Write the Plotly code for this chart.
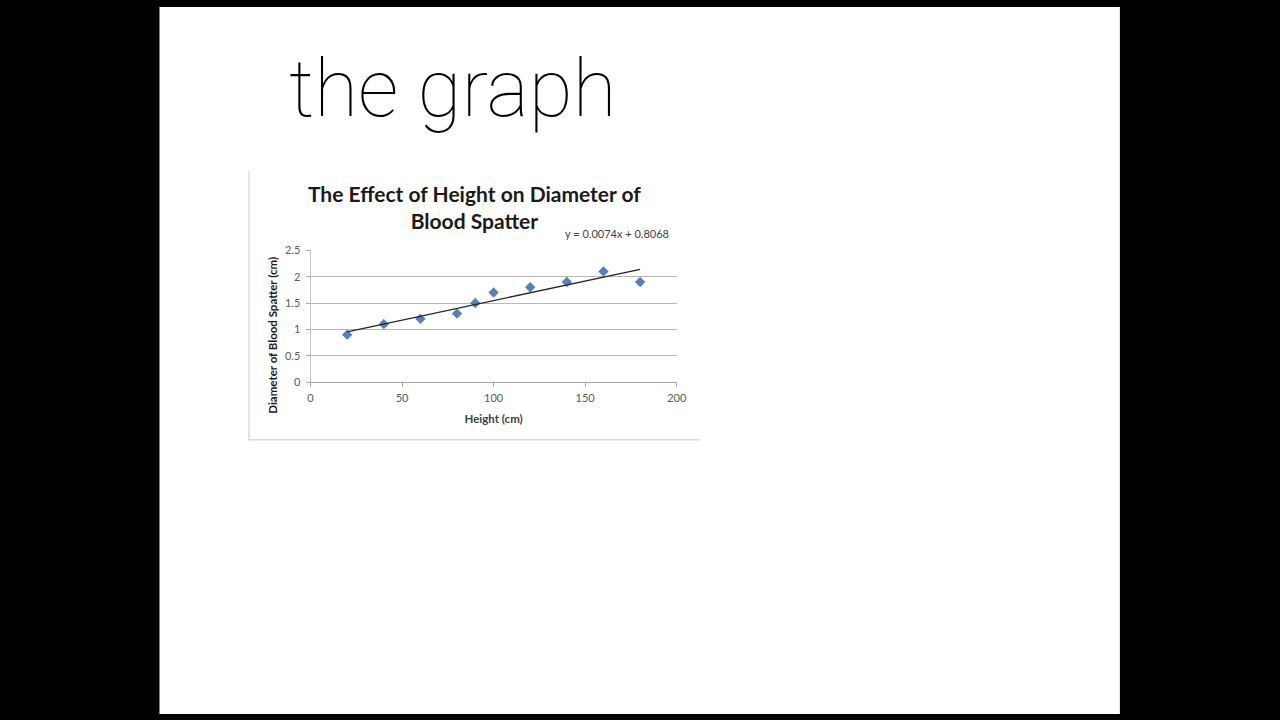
import numpy as np
import plotly.graph_objects as go

# ---- data ----
heights = [20, 40, 60, 80, 90, 100, 120, 140, 160, 180]
diameters = [0.9, 1.1, 1.2, 1.3, 1.5, 1.7, 1.8, 1.9, 2.1, 1.9]
x_ticks = [0, 50, 100, 150, 200]
y_ticks = [0, 0.5, 1, 1.5, 2, 2.5]
title_text = "The Effect of Height on Diameter of<br>Blood Spatter"
x_title = "Height (cm)"
y_title = "Diameter of Blood Spatter (cm)"
eq_text = "y = 0.0074x + 0.8068"
note_text = "the graph"

W, H = 1280, 720
# positions are given in target picture pixels; small correction for how the page is photographed
SX, BX, SY, BY = 0.9894, 3.6, 0.985, 5.8
def px(x):
    return ((x - BX) / SX) / W
def py(y):
    return 1 - ((y - BY) / SY) / H

slope, intercept = np.polyfit(heights, diameters, 1)
trend_x = [min(heights), max(heights)]
trend_y = [slope * v + intercept for v in trend_x]

fig = go.Figure()
fig.add_trace(go.Scatter(
    x=heights, y=diameters, mode="markers",
    marker=dict(symbol="diamond", size=8, color="#5580ba",
                line=dict(width=0)),
    showlegend=False, hoverinfo="skip"))
fig.add_trace(go.Scatter(
    x=trend_x, y=trend_y, mode="lines",
    line=dict(color="#262626", width=1.3),
    showlegend=False, hoverinfo="skip"))

FONT = "Lato, Open Sans, sans-serif"
axis_font = dict(family=FONT, size=11, color="#595959")
fig.update_layout(
    width=W, height=H, autosize=False,
    margin=dict(l=0, r=0, t=0, b=0),
    paper_bgcolor="black", plot_bgcolor="white",
    showlegend=False,
    title=dict(text=title_text, x=px(473), y=py(204.3), xanchor="center", yanchor="middle",
               font=dict(family=FONT, size=21, color="#1a1a1a", weight="bold")),
    xaxis=dict(domain=[px(311), px(677)], range=[0, 200], tickvals=x_ticks,
               showgrid=False, zeroline=False, showline=True, linecolor="#a6a6a6", linewidth=1,
               ticks="outside", ticklen=4, tickcolor="#a6a6a6", tickfont=axis_font,
               ticklabelstandoff=2,
               title=dict(text=x_title, standoff=11,
                          font=dict(family=FONT, size=11.5, color="#404040", weight="bold"))),
    yaxis=dict(domain=[py(382), py(250)], range=[0, 2.5], tickvals=y_ticks,
               showgrid=True, gridcolor="#b8b8b8", gridwidth=1, zeroline=False,
               showline=True, linecolor="#c4c4c4", linewidth=1,
               ticks="outside", ticklen=4, tickcolor="#a6a6a6", tickfont=axis_font,
               ticklabelstandoff=3),
    shapes=[
        dict(type="rect", xref="paper", yref="paper", x0=px(160), x1=px(1120), y0=0, y1=1,
             fillcolor="white", line=dict(width=0), layer="below"),
        dict(type="line", xref="paper", yref="paper", x0=px(249.5), x1=px(249.5), y0=py(440), y1=py(170),
             line=dict(color="#c8c8c8", width=1)),
        dict(type="line", xref="paper", yref="paper", x0=px(249.5), x1=px(700), y0=py(440), y1=py(440),
             line=dict(color="#c8c8c8", width=1)),
    ],
    annotations=[
        dict(text=y_title, xref="paper", yref="paper", x=px(273), y=py(335), showarrow=False,
             textangle=-90, xanchor="center", yanchor="middle",
             font=dict(family=FONT, size=11.5, color="#1a1a1a", weight="bold")),
        dict(text=eq_text, xref="paper", yref="paper", x=px(617.5), y=py(233.3), showarrow=False,
             xanchor="center", yanchor="middle",
             font=dict(family=FONT, size=11, color="#404040")),
        dict(text=note_text, xref="paper", yref="paper", x=px(453), y=py(88.5), showarrow=False,
             xanchor="center", yanchor="middle",
             font=dict(family="Roboto, sans-serif", size=80, color="black", weight=100)),
    ],
)

fig.write_html("out.html", config={"displayModeBar": False},
               post_script="document.body.style.margin='0px';document.body.style.padding='0px';document.body.style.overflow='hidden';")
